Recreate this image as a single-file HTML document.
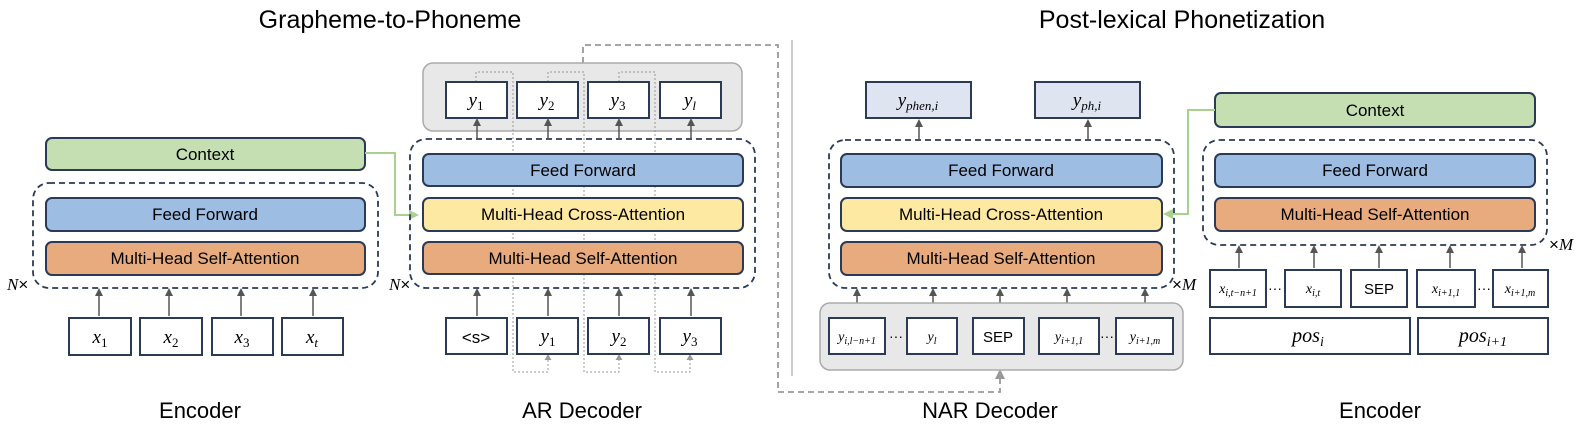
<!DOCTYPE html>
<html><head><meta charset="utf-8"><style>
html,body{margin:0;padding:0;background:#fff;}
svg{display:block;}
text{font-family:"Liberation Sans",sans-serif;}
.m{font-family:"Liberation Serif",serif;font-style:italic;}
</style></head><body>
<svg width="1581" height="429" viewBox="0 0 1581 429" xmlns="http://www.w3.org/2000/svg">
<defs>
<marker id="a" markerWidth="8" markerHeight="8" refX="4" refY="4" orient="auto" markerUnits="userSpaceOnUse"><path d="M0,0 L8,4 L0,8 z" fill="#555"/></marker>
<marker id="g" markerWidth="10" markerHeight="10" refX="5" refY="5" orient="auto" markerUnits="userSpaceOnUse"><path d="M0,0 L10,5 L0,10 z" fill="#a9d08e"/></marker>
<marker id="l" markerWidth="10" markerHeight="10" refX="5" refY="5" orient="auto" markerUnits="userSpaceOnUse"><path d="M0,0 L10,5 L0,10 z" fill="#999"/></marker>
</defs>

<text x="390" y="28" font-size="25" text-anchor="middle">Grapheme-to-Phoneme</text>
<text x="1182" y="28" font-size="25" text-anchor="middle">Post-lexical Phonetization</text>
<g font-size="22" text-anchor="middle">
<text x="200" y="418">Encoder</text>
<text x="582" y="418">AR Decoder</text>
<text x="990" y="418">NAR Decoder</text>
<text x="1380" y="418">Encoder</text>
</g>

<line x1="792" y1="40" x2="792" y2="376" stroke="#bbb" stroke-width="1.5"/>

<!-- Left encoder -->
<rect x="46" y="138" width="319" height="32" rx="6" fill="#c5dfb3" stroke="#2b3a55" stroke-width="2"/>
<text x="205" y="160" font-size="17" text-anchor="middle">Context</text>
<rect x="33" y="183" width="345" height="105" rx="16" fill="none" stroke="#2b3a55" stroke-width="1.8" stroke-dasharray="6,4"/>
<rect x="46" y="198" width="319" height="33" rx="6" fill="#9dbde3" stroke="#2b3a55" stroke-width="2"/>
<text x="205" y="220" font-size="17" text-anchor="middle">Feed Forward</text>
<rect x="46" y="242" width="319" height="33" rx="6" fill="#e8ab7d" stroke="#2b3a55" stroke-width="2"/>
<text x="205" y="264" font-size="17" text-anchor="middle">Multi-Head Self-Attention</text>
<text x="7" y="290" font-size="17"><tspan class="m">N</tspan>×</text>
<g stroke="#2b3a55" stroke-width="2" fill="#fff">
<rect x="69" y="318" width="62" height="37"/><rect x="140" y="318" width="62" height="37"/>
<rect x="212" y="318" width="61" height="37"/><rect x="282" y="318" width="61" height="37"/>
</g>
<g class="m" font-size="19" text-anchor="middle">
<text x="100" y="343" class="m">x<tspan font-size="13" dy="4" font-style="normal">1</tspan></text>
<text x="171" y="343" class="m">x<tspan font-size="13" dy="4" font-style="normal">2</tspan></text>
<text x="242" y="343" class="m">x<tspan font-size="13" dy="4" font-style="normal">3</tspan></text>
<text x="312" y="343" class="m">x<tspan font-size="13" dy="4">t</tspan></text>
</g>
<g stroke="#555" stroke-width="1.5" marker-end="url(#a)">
<line x1="99" y1="316" x2="99" y2="292"/><line x1="169" y1="316" x2="169" y2="292"/>
<line x1="241" y1="316" x2="241" y2="292"/><line x1="313" y1="316" x2="313" y2="292"/>
</g>
<polyline points="365,153 395,153 395,215 414,215" fill="none" stroke="#a9d08e" stroke-width="2" marker-end="url(#g)"/>

<!-- AR decoder -->
<polyline points="583,63 583,45 778,45 778,392 1000,392 1000,374" fill="none" stroke="#999" stroke-width="1.8" stroke-dasharray="6,4" marker-end="url(#l)"/>
<rect x="423" y="63" width="319" height="68" rx="10" fill="#e8e8e8" stroke="#aaa" stroke-width="1.5"/>
<g fill="none" stroke="#999" stroke-width="1" stroke-dasharray="2,2">
<polyline points="476,82 476,72 513,72 513,372 548,372 548,358"/>
<polyline points="548,82 548,72 584,72 584,372 619,372 619,358"/>
<polyline points="619,82 619,72 655,72 655,372 690,372 690,358"/>
</g>
<g fill="#999"><path d="M548,354 l-3.5,6 h7z"/><path d="M619,354 l-3.5,6 h7z"/><path d="M690,354 l-3.5,6 h7z"/></g>
<g stroke="#2b3a55" stroke-width="2" fill="#fff">
<rect x="446" y="82" width="61" height="36"/><rect x="517" y="82" width="61" height="36"/>
<rect x="588" y="82" width="61" height="36"/><rect x="660" y="82" width="61" height="36"/>
<rect x="446" y="318" width="61" height="36"/><rect x="517" y="318" width="61" height="36"/>
<rect x="588" y="318" width="61" height="36"/><rect x="660" y="318" width="61" height="36"/>
</g>
<g class="m" font-size="19" text-anchor="middle">
<text x="476" y="106" class="m">y<tspan font-size="13" dy="4" font-style="normal">1</tspan></text>
<text x="547" y="106" class="m">y<tspan font-size="13" dy="4" font-style="normal">2</tspan></text>
<text x="618" y="106" class="m">y<tspan font-size="13" dy="4" font-style="normal">3</tspan></text>
<text x="690" y="106" class="m">y<tspan font-size="13" dy="4">l</tspan></text>
<text x="548" y="342" class="m">y<tspan font-size="13" dy="4" font-style="normal">1</tspan></text>
<text x="619" y="342" class="m">y<tspan font-size="13" dy="4" font-style="normal">2</tspan></text>
<text x="690" y="342" class="m">y<tspan font-size="13" dy="4" font-style="normal">3</tspan></text>
</g>
<text x="476" y="343" font-size="17" text-anchor="middle">&lt;s&gt;</text>
<rect x="410" y="139" width="345" height="149" rx="16" fill="none" stroke="#2b3a55" stroke-width="1.8" stroke-dasharray="6,4"/>
<rect x="423" y="154" width="320" height="32" rx="6" fill="#9dbde3" stroke="#2b3a55" stroke-width="2"/>
<text x="583" y="176" font-size="17" text-anchor="middle">Feed Forward</text>
<rect x="423" y="198" width="320" height="33" rx="6" fill="#fde9a2" stroke="#2b3a55" stroke-width="2"/>
<text x="583" y="220" font-size="17" text-anchor="middle">Multi-Head Cross-Attention</text>
<rect x="423" y="242" width="320" height="32" rx="6" fill="#e8ab7d" stroke="#2b3a55" stroke-width="2"/>
<text x="583" y="264" font-size="17" text-anchor="middle">Multi-Head Self-Attention</text>
<text x="389" y="290" font-size="17"><tspan class="m">N</tspan>×</text>
<g stroke="#555" stroke-width="1.5" marker-end="url(#a)">
<line x1="477" y1="139" x2="477" y2="122"/><line x1="548" y1="139" x2="548" y2="122"/>
<line x1="619" y1="139" x2="619" y2="122"/><line x1="691" y1="139" x2="691" y2="122"/>
<line x1="477" y1="316" x2="477" y2="292"/><line x1="548" y1="316" x2="548" y2="292"/>
<line x1="619" y1="316" x2="619" y2="292"/><line x1="691" y1="316" x2="691" y2="292"/>
</g>

<!-- NAR decoder -->
<g stroke="#2b3a55" stroke-width="2" fill="#dfe5f0">
<rect x="866" y="82" width="105" height="36"/><rect x="1035" y="82" width="105" height="36"/>
</g>
<text x="918" y="106" font-size="19" text-anchor="middle" class="m">y<tspan font-size="13" dy="4">phen,i</tspan></text>
<text x="1087" y="106" font-size="19" text-anchor="middle" class="m">y<tspan font-size="13" dy="4">ph,i</tspan></text>
<rect x="829" y="140" width="345" height="148" rx="16" fill="none" stroke="#2b3a55" stroke-width="1.8" stroke-dasharray="6,4"/>
<rect x="841" y="154" width="321" height="33" rx="6" fill="#9dbde3" stroke="#2b3a55" stroke-width="2"/>
<text x="1001" y="176" font-size="17" text-anchor="middle">Feed Forward</text>
<rect x="841" y="198" width="321" height="33" rx="6" fill="#fde9a2" stroke="#2b3a55" stroke-width="2"/>
<text x="1001" y="220" font-size="17" text-anchor="middle">Multi-Head Cross-Attention</text>
<rect x="841" y="242" width="321" height="33" rx="6" fill="#e8ab7d" stroke="#2b3a55" stroke-width="2"/>
<text x="1001" y="264" font-size="17" text-anchor="middle">Multi-Head Self-Attention</text>
<text x="1172" y="290" font-size="17">×<tspan class="m">M</tspan></text>
<g stroke="#555" stroke-width="1.5" marker-end="url(#a)">
<line x1="919" y1="140" x2="919" y2="123"/><line x1="1088" y1="140" x2="1088" y2="123"/>
<line x1="857" y1="316" x2="857" y2="292"/><line x1="933" y1="316" x2="933" y2="292"/>
<line x1="1000" y1="316" x2="1000" y2="292"/><line x1="1067" y1="316" x2="1067" y2="292"/>
<line x1="1145" y1="316" x2="1145" y2="292"/>
</g>
<rect x="820" y="303" width="363" height="67" rx="10" fill="#e8e8e8" stroke="#aaa" stroke-width="1.5"/>
<g stroke="#2b3a55" stroke-width="2" fill="#fff">
<rect x="829" y="318" width="56" height="36"/><rect x="907" y="318" width="50" height="36"/>
<rect x="973" y="318" width="51" height="36"/><rect x="1039" y="318" width="60" height="36"/>
<rect x="1116" y="318" width="57" height="36"/>
</g>
<g font-size="14" class="m" text-anchor="middle">
<text x="857" y="341" class="m">y<tspan font-size="10" dy="3">i,l−n+1</tspan></text>
<text x="932" y="341" class="m">y<tspan font-size="10" dy="3">l</tspan></text>
<text x="1069" y="341" class="m">y<tspan font-size="10" dy="3">i+1,1</tspan></text>
<text x="1145" y="341" class="m">y<tspan font-size="10" dy="3">i+1,m</tspan></text>
</g>
<text x="998" y="342" font-size="15" text-anchor="middle">SEP</text>
<text x="896" y="341" font-size="14" text-anchor="middle">···</text>
<text x="1107" y="341" font-size="14" text-anchor="middle">···</text>

<!-- Right encoder -->
<rect x="1215" y="93" width="320" height="34" rx="6" fill="#c5dfb3" stroke="#2b3a55" stroke-width="2"/>
<text x="1375" y="116" font-size="17" text-anchor="middle">Context</text>
<polyline points="1215,110 1188,110 1188,214 1168,214" fill="none" stroke="#a9d08e" stroke-width="2" marker-end="url(#g)"/>
<rect x="1203" y="140" width="344" height="105" rx="16" fill="none" stroke="#2b3a55" stroke-width="1.8" stroke-dasharray="6,4"/>
<rect x="1215" y="154" width="320" height="33" rx="6" fill="#9dbde3" stroke="#2b3a55" stroke-width="2"/>
<text x="1375" y="176" font-size="17" text-anchor="middle">Feed Forward</text>
<rect x="1215" y="198" width="320" height="33" rx="6" fill="#e8ab7d" stroke="#2b3a55" stroke-width="2"/>
<text x="1375" y="220" font-size="17" text-anchor="middle">Multi-Head Self-Attention</text>
<text x="1549" y="250" font-size="17">×<tspan class="m">M</tspan></text>
<g stroke="#555" stroke-width="1.5" marker-end="url(#a)">
<line x1="1239" y1="268" x2="1239" y2="249"/><line x1="1314" y1="268" x2="1314" y2="249"/>
<line x1="1379" y1="268" x2="1379" y2="249"/><line x1="1450" y1="268" x2="1450" y2="249"/>
<line x1="1522" y1="268" x2="1522" y2="249"/>
</g>
<g stroke="#2b3a55" stroke-width="2" fill="#fff">
<rect x="1210" y="270" width="56" height="37"/><rect x="1285" y="270" width="56" height="37"/>
<rect x="1351" y="270" width="56" height="37"/><rect x="1417" y="270" width="58" height="37"/>
<rect x="1493" y="270" width="55" height="37"/>
<rect x="1210" y="318" width="200" height="36"/><rect x="1418" y="318" width="130" height="36"/>
</g>
<g font-size="14" class="m" text-anchor="middle">
<text x="1238" y="293" class="m">x<tspan font-size="10" dy="3">i,t−n+1</tspan></text>
<text x="1313" y="293" class="m">x<tspan font-size="10" dy="3">i,t</tspan></text>
<text x="1446" y="293" class="m">x<tspan font-size="10" dy="3">i+1,1</tspan></text>
<text x="1520" y="293" class="m">x<tspan font-size="10" dy="3">i+1,m</tspan></text>
</g>
<text x="1379" y="294" font-size="15" text-anchor="middle">SEP</text>
<text x="1275" y="293" font-size="14" text-anchor="middle">···</text>
<text x="1484" y="293" font-size="14" text-anchor="middle">···</text>
<text x="1308" y="342" font-size="20" class="m" text-anchor="middle">pos<tspan font-size="14" dy="4">i</tspan></text>
<text x="1483" y="342" font-size="20" class="m" text-anchor="middle">pos<tspan font-size="14" dy="4">i+1</tspan></text>
</svg>
</body></html>
